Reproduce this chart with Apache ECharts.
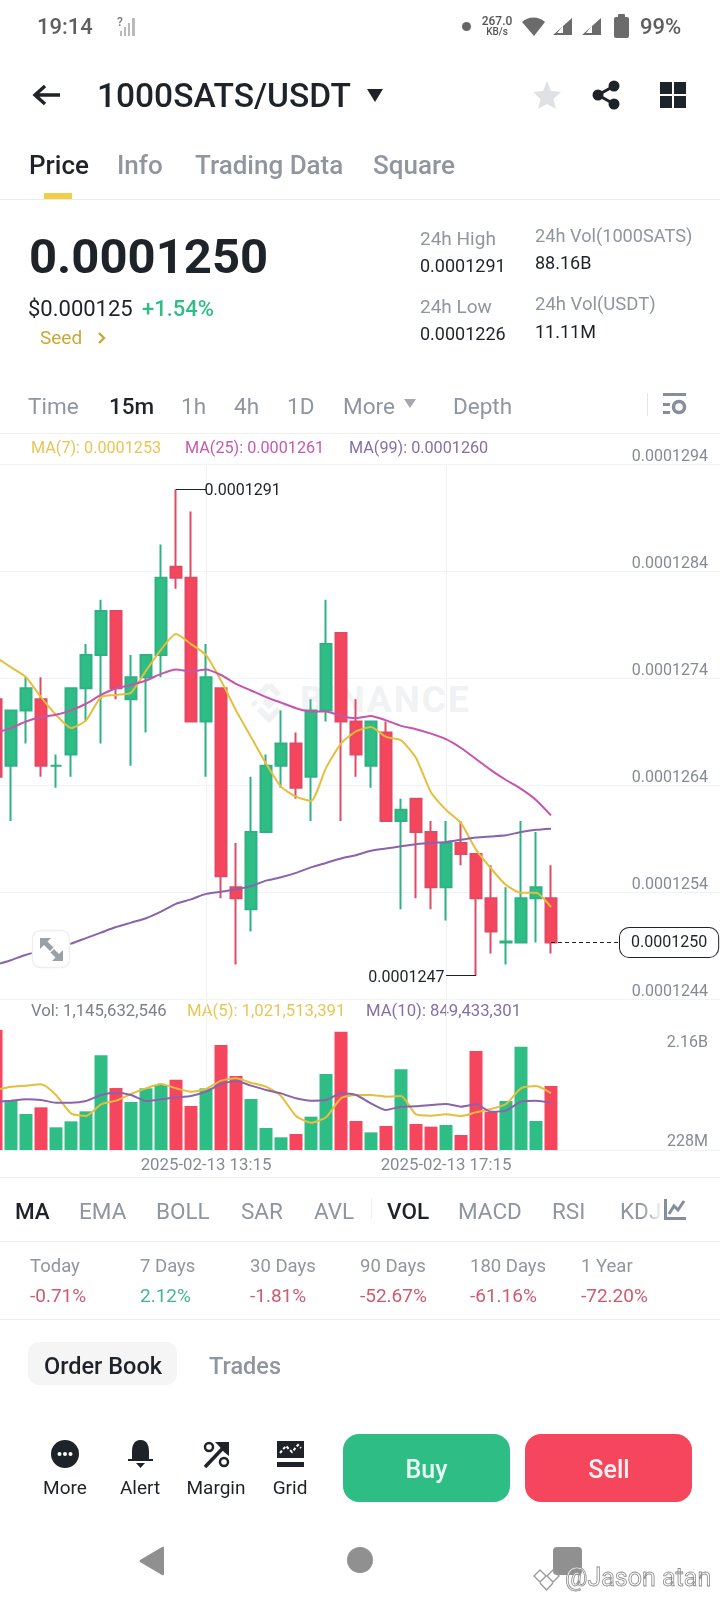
<!DOCTYPE html>
<html>
<head>
<meta charset="utf-8">
<title>1000SATS/USDT</title>
<script src="https://cdn.jsdelivr.net/npm/echarts@6/dist/echarts.min.js"></script>
<style>
html, body { margin: 0; padding: 0; background: #fff; }
body { position: relative; width: 720px; height: 1600px; overflow: hidden; font-family: Roboto, sans-serif; }
#chart { position: absolute; left: 0; top: 0; width: 720px; height: 1600px; }
#ui, #under { position: absolute; left: 0; top: 0; width: 720px; height: 1600px; }
#ui { pointer-events: none; }
.t { position: absolute; white-space: nowrap; transform: translateY(-50%); line-height: 1.2; }
.c { transform: translate(-50%, -50%); }
.b { position: absolute; }
svg { position: absolute; overflow: visible; }
</style>
</head>
<body>
<div id="under"></div>
<div id="chart"></div>
<div id="ui"></div>
<script>
// prices are in units of 0.0000001
var times = ['09:45','10:00','10:15','10:30','10:45','11:00','11:15','11:30','11:45','12:00',
  '12:15','12:30','12:45','13:00','13:15','13:30','13:45','14:00','14:15','14:30',
  '14:45','15:00','15:15','15:30','15:45','16:00','16:15','16:30','16:45','17:00',
  '17:15','17:30','17:45','18:00','18:15','18:30','18:45','19:00','19:15','19:30',
  '19:45','20:00','20:15','20:30','20:45','21:00','21:15','21:30','21:45','22:00'];
var dateStr = '2025-02-13';
var timeTickIdx = [14, 30];

var opens  = [1272,1266,1271,1272,1266,1267,1273,1276,1280,1272,1274,1276,1284,1283,1270,1273,1255,1253,1260,1266,
              1268,1265,1271,1278,1270,1266,1269,1261,1263,1260,1255,1259,1258,1254,1250,1250,1254,1254];
var closes = [1265,1271,1273,1266,1266,1273,1276,1280,1273,1274,1276,1283,1283,1270,1274,1256,1254,1260,1266,1268,
              1264,1271,1277,1270,1267,1270,1261,1262,1260,1255,1259,1258,1254,1251,1250.1,1254,1255,1250];
var lows   = [1265,1261,1268,1265,1264,1265,1270,1268,1272,1266,1269,1274,1282,1270,1265,1254,1248,1251,1260,1264,
              1263,1261,1270,1261,1265,1264,1261,1253,1254,1253,1252,1257,1247,1249,1248,1250,1250,1249];
var highs  = [1272,1271,1274,1274,1267,1273,1277,1281,1280,1276,1276,1286,1291,1289,1277,1273,1259,1265,1267,1271,
              1269,1272,1281,1278,1272,1270,1270,1263,1263,1261,1261,1261,1258,1257,1255,1261,1260,1257];

var ma7  = [1275.8,1274.9,1274.0,1272.2,1270.6,1269.4,1270.1,1272.2,1272.4,1272.6,1274.6,1276.5,1277.9,1277.0,1276.0,1273.7,1271.0,1268.6,1266.2,1264.1,
            1263.2,1262.8,1265.8,1268.0,1269.1,1269.5,1268.6,1268.3,1266.7,1263.6,1262.0,1260.8,1258.4,1256.7,1255.2,1254.5,1254.5,1253.2];
var ma25 = [1269.0,1269.4,1270.0,1270.4,1270.6,1271.0,1271.6,1272.4,1273.0,1273.3,1273.7,1274.3,1274.7,1274.5,1274.7,1274.2,1273.4,1272.8,1272.2,1271.7,
            1271.2,1270.9,1270.9,1270.5,1270.3,1270.5,1270.1,1269.6,1269.3,1268.9,1268.4,1267.6,1266.6,1265.6,1264.7,1263.9,1262.9,1261.5];
var ma99 = [1248.0,1248.4,1248.9,1249.2,1249.5,1249.9,1250.4,1250.9,1251.4,1251.8,1252.2,1252.8,1253.5,1253.9,1254.4,1254.6,1254.8,1255.1,1255.6,1255.9,
            1256.3,1256.8,1257.2,1257.6,1257.9,1258.3,1258.5,1258.7,1258.9,1259.0,1259.1,1259.3,1259.5,1259.6,1259.7,1260.0,1260.2,1260.3];

// volume in millions
var volumes = [2148,895,644,764,406,513,692,1695,1110,859,1104,1164,1259,788,1104,1880,1325,913,394,227,
               286,597,1360,2118,519,316,430,1444,465,418,448,269,1772,686,877,1850,519,1146];
var volMa5  = [1074,1134,1152,1175,985,656,609,817,883,1002,1104,1181,1104,1044,1092,1241,1283,1205,1134,967,
               609,489,585,925,985,985,955,967,638,615,638,609,674,734,823,1104,1146,1020];
var volMa10 = [865,883,907,895,847,847,877,985,1026,985,877,907,943,967,1044,1181,1235,1152,1074,1014,
               925,883,895,1014,985,835,716,776,782,806,823,776,817,686,704,865,883,847];

// axis gridlines sit a little off the printed labels, same as in the app
var priceTicks = [1244.89, 1254.57, 1264.25, 1273.93, 1283.61, 1293.29];
var priceTickLabels = ['0.0001244','0.0001254','0.0001264','0.0001274','0.0001284','0.0001294'];
var volTicks = [0, 1777];
var volTickLabels = ['228M', '2.16B'];

var priceLegend = ['MA(7): 0.0001253', 'MA(25): 0.0001261', 'MA(99): 0.0001260'];
var volLegend = ['Vol: 1,145,632,546', 'MA(5): 1,021,513,391', 'MA(10): 849,433,301'];

var GREEN = '#2EBD85', RED = '#F6465D', YELLOW = '#E6BE3C', PINK = '#C653AE', PURPLE = '#8A63AC';
var GRID_LINE = '#F1F2F3', AXIS_TEXT = '#858B94', INK = '#1E2329', GREY = '#8F96A0';

function priceText(p) { return '0.000' + Math.round(p); }
function nearestLabel(ticks, labels, v) {
  var best = 0;
  ticks.forEach(function (t, i) { if (Math.abs(t - v) < Math.abs(ticks[best] - v)) best = i; });
  return labels[best];
}

var candleData = opens.map(function (o, i) { return [o, closes[i], lows[i], highs[i]]; });
var hi = Math.max.apply(null, highs), lo = Math.min.apply(null, lows);
var hiIdx = highs.indexOf(hi), loIdx = lows.indexOf(lo);
var lastIdx = closes.length - 1, last = closes[lastIdx];

function maLine(name, data, color, xi, yi) {
  return { name: name, type: 'line', data: data, xAxisIndex: xi, yAxisIndex: yi, showSymbol: false, smooth: 0.2,
    lineStyle: { color: color, width: 2 }, itemStyle: { color: color }, silent: true, z: 5 };
}
function legendText(s, x, y, color, size) {
  return { type: 'text', x: x, y: y, silent: true,
    style: { text: s, fill: color, font: size + 'px Roboto', verticalAlign: 'middle' } };
}

var chart = echarts.init(document.getElementById('chart'));
chart.setOption({
  animation: false,
  backgroundColor: 'transparent',
  grid: [
    { left: -4, right: -11, top: 464, height: 535, outerBoundsMode: 'none' },
    { left: -4, right: -11, top: 1000, height: 150, outerBoundsMode: 'none' }
  ],
  xAxis: [
    { type: 'category', gridIndex: 0, data: times, boundaryGap: false,
      axisLine: { show: false }, axisTick: { show: false }, axisLabel: { show: false },
      splitLine: { show: true, interval: function (i) { return timeTickIdx.indexOf(i) >= 0; }, lineStyle: { color: GRID_LINE, width: 1 } } },
    { type: 'category', gridIndex: 1, data: times, boundaryGap: false,
      axisLine: { show: true, lineStyle: { color: GRID_LINE, width: 1 } }, axisTick: { show: false },
      axisLabel: { interval: function (i) { return timeTickIdx.indexOf(i) >= 0; }, margin: 7, color: AXIS_TEXT,
        fontFamily: 'Roboto', fontSize: 16.8, formatter: function (v) { return dateStr + ' ' + v; } },
      splitLine: { show: true, interval: function (i) { return timeTickIdx.indexOf(i) >= 0; }, lineStyle: { color: GRID_LINE, width: 1 } } }
  ],
  yAxis: [
    { type: 'value', gridIndex: 0, position: 'right', min: priceTicks[0], max: priceTicks[5], scale: true,
      axisLine: { show: false }, axisTick: { show: false, customValues: priceTicks },
      axisLabel: { inside: true, margin: 23, customValues: priceTicks, color: AXIS_TEXT, fontFamily: 'Roboto', fontSize: 16,
        verticalAlign: 'bottom', padding: [0, 0, -1, 0], formatter: function (v) { return nearestLabel(priceTicks, priceTickLabels, v); } },
      splitLine: { show: true, lineStyle: { color: GRID_LINE, width: 1 } } },
    { type: 'value', gridIndex: 1, position: 'right', min: 0, max: 2685,
      axisLine: { show: false }, axisTick: { show: false, customValues: volTicks },
      axisLabel: { inside: true, margin: 23, customValues: volTicks, color: AXIS_TEXT, fontFamily: 'Roboto', fontSize: 16,
        verticalAlign: 'bottom', formatter: function (v) { return nearestLabel(volTicks, volTickLabels, v); } },
      splitLine: { show: false } }
  ],
  series: [
    { name: 'price', type: 'candlestick', data: candleData, xAxisIndex: 0, yAxisIndex: 0, barWidth: 11.5,
      itemStyle: { color: GREEN, color0: RED, borderColor: '#2FB186', borderColor0: '#E04A65', borderWidth: 2 },
      markLine: { silent: true, symbol: 'none', animation: false,
        lineStyle: { color: INK, width: 1, type: 'solid' },
        label: { color: INK, fontFamily: 'Roboto', fontSize: 16, distance: 0 },
        data: [
          [ { coord: [hiIdx, hi], label: { formatter: priceText(hi), offset: [-1.5, 2] } }, { coord: [hiIdx + 2, hi] } ],
          [ { coord: [loIdx, lo], label: { formatter: priceText(lo), offset: [-1.5, 2] } }, { coord: [loIdx - 2, lo] } ],
          [ { coord: [lastIdx, last], lineStyle: { type: [4, 3] },
              label: { formatter: priceText(last), distance: -6, backgroundColor: '#fff', borderColor: INK, borderWidth: 1,
                borderRadius: 9, padding: [8, 11, 5, 11] } },
            { coord: [lastIdx + 5, last] } ]
        ] } },
    maLine('MA(7)', ma7, YELLOW, 0, 0),
    maLine('MA(25)', ma25, PINK, 0, 0),
    maLine('MA(99)', ma99, PURPLE, 0, 0),
    { name: 'Vol', type: 'bar', data: volumes, xAxisIndex: 1, yAxisIndex: 1, barWidth: 13,
      itemStyle: { color: function (p) { return closes[p.dataIndex] >= opens[p.dataIndex] ? GREEN : RED; } } },
    maLine('MA(5)', volMa5, YELLOW, 1, 1),
    maLine('MA(10)', volMa10, PURPLE, 1, 1)
  ],
  graphic: [
    legendText(priceLegend[0], 31, 449, '#E8C654', 16.2),
    legendText(priceLegend[1], 185, 449, '#C659B1', 16.2),
    legendText(priceLegend[2], 349, 449, '#8470A8', 16.2),
    legendText(volLegend[0], 31, 1012, '#7B808A', 16.7),
    legendText(volLegend[1], 187, 1012, '#E8C654', 16.7),
    legendText(volLegend[2], 366, 1012, '#8470A8', 16.7)
  ]
});

// everything around the chart is plain page furniture
var ui = document.getElementById('ui');
function add(html) { ui.insertAdjacentHTML('beforeend', html); }
function txt(s, x, cy, size, color, weight, extra) {
  add('<div class="t" style="left:' + x + 'px;top:' + cy + 'px;font-size:' + size + 'px;color:' + color +
      ';font-weight:' + (weight || 400) + ';' + (extra || '') + '">' + s + '</div>');
}
function mid(s, x, cy, size, color, weight) {
  add('<div class="t c" style="left:' + x + 'px;top:' + cy + 'px;font-size:' + size + 'px;color:' + color +
      ';font-weight:' + (weight || 400) + '">' + s + '</div>');
}
function box(x, y, w, h, color, r) {
  add('<div class="b" style="left:' + x + 'px;top:' + y + 'px;width:' + w + 'px;height:' + h + 'px;background:' + color +
      ';border-radius:' + (r || 0) + 'px"></div>');
}
function svg(x, y, w, h, inner, vb) {
  add('<svg style="left:' + x + 'px;top:' + y + 'px" width="' + w + '" height="' + h + '" viewBox="' + (vb || ('0 0 ' + w + ' ' + h)) + '">' + inner + '</svg>');
}

// status bar
txt('19:14', 37, 27, 22, '#5E5E5E', 500);
txt('?', 117, 22, 12, '#777', 500);
svg(119, 17, 17, 19, '<path d="M1 19V14h2v5zM5 19V10h2v9zM9 19V6h2v13zM13 19V1h3v18z" fill="#bbb"/>');
box(462, 22, 9, 9, '#666', 5);
mid('267.0', 497, 21, 12, '#555', 500);
mid('KB/s', 497, 32, 10, '#555', 500);
svg(522, 17, 24, 19, '<path d="M0 5C6-1 17-1 23 5L12 19z" fill="#6B6B6B"/>');
svg(553, 18, 19, 17, '<path d="M19 0V17H0zM10 8 4 15H10z" fill="#6B6B6B" fill-rule="evenodd"/>');
svg(582, 18, 19, 17, '<path d="M19 0V17H0zM10 8 4 15H10z" fill="#6B6B6B" fill-rule="evenodd"/>');
box(614, 17, 15, 21, '#6B6B6B', 2);
box(618, 14, 7, 4, '#6B6B6B', 1);
txt('99%', 640, 27, 22, '#5E5E5E', 500);

// title bar
svg(33, 84, 28, 22, '<path d="M27 11H3M12 2 2 11l10 9" fill="none" stroke="#1E2329" stroke-width="3.4"/>');
txt('1000SATS/USDT', 97, 96, 33.5, INK, 500);
svg(367, 89, 16, 13, '<path d="M0 0H16L8 13z" fill="#1E2329"/>');
svg(533, 81, 28, 28, '<path d="M14 0l4 10 10 1-7.5 7L23 28l-9-5-9 5 2.500-10L0 11l10-1z" fill="#DFE1E5"/>');
svg(592, 81, 28, 28, '<circle cx="22" cy="5" r="5.500" fill="#1E2329"/><circle cx="22" cy="23" r="5.500" fill="#1E2329"/><circle cx="6" cy="14" r="5.500" fill="#1E2329"/><path d="M22 5 6 14l16 9" fill="none" stroke="#1E2329" stroke-width="3"/>');
box(660, 82, 12, 12, INK); box(674, 82, 12, 12, INK); box(660, 96, 12, 12, INK); box(674, 96, 12, 12, INK);

// tabs
txt('Price', 29, 166, 26, INK, 500);
txt('Info', 117, 166, 26, GREY, 500);
txt('Trading Data', 195, 166, 26, GREY, 500);
txt('Square', 373, 166, 26, GREY, 500);
box(44, 193, 28, 6, '#F0CE4A');
box(0, 199, 720, 1, '#E9EAEC');

// ticker block
txt('0.0001250', 29, 257, 49, INK, 700);
txt('$0.000125', 28, 309, 22, INK, 400);
txt('+1.54%', 142, 309, 22, GREEN, 500);
txt('Seed', 40, 338, 19, '#C9A935', 400);
svg(98, 332, 8, 12, '<path d="M1 1l5 5-5 5" fill="none" stroke="#C9A935" stroke-width="2.4"/>');
txt('24h High', 420, 239, 19, GREY);
txt('0.0001291', 420, 266, 18, INK);
txt('24h Vol(1000SATS)', 535, 236, 18.2, GREY);
txt('88.16B', 535, 263, 18, INK);
txt('24h Low', 420, 307, 19, GREY);
txt('0.0001226', 420, 334, 18, INK);
txt('24h Vol(USDT)', 535, 304, 18.5, GREY);
txt('11.11M', 535, 332, 18, INK);

// interval row
txt('Time', 28, 406, 22.500, GREY);
txt('15m', 109, 406, 22.500, INK, 500);
txt('1h', 181, 406, 22.500, GREY);
txt('4h', 234, 406, 22.500, GREY);
txt('1D', 287, 406, 22.500, GREY);
txt('More', 343, 406, 22.500, GREY);
svg(404, 399, 12, 9, '<path d="M0 0H12L6 9z" fill="#A4A9B0"/>');
txt('Depth', 453, 406, 22.500, GREY);
box(647, 393, 1, 23, '#E5E5E5');
svg(663, 393, 23, 23, '<rect x="0" y="0" width="23" height="3" fill="#848E9C"/><rect x="0" y="10" width="7" height="3" fill="#848E9C"/><rect x="0" y="18" width="7" height="3" fill="#848E9C"/><circle cx="16" cy="14" r="5.500" fill="none" stroke="#848E9C" stroke-width="3.500"/>');
box(0, 433, 720, 1, '#F0F1F2');

// fullscreen button on the chart
svg(32, 930, 38, 38, '<rect x=".5" y=".5" width="37" height="37" rx="8" fill="#fff" stroke="#EEEFF0" stroke-width="1.500"/><path d="M8 8h11l-3.500 3.500 6 6-3.500 3.500-6-6L8 19z" fill="#9AA0A8"/><path d="M31 31H20l3.500-3.500-5-5 3.500-3.500 5 5 4-4z" fill="#9AA0A8"/>');

// bottom of the chart
box(0, 1177, 720, 1, '#EDEEEF');

// indicator row
txt('MA', 15, 1211, 22.5, INK, 500);
txt('EMA', 79, 1211, 22.5, GREY);
txt('BOLL', 156, 1211, 22.5, GREY);
txt('SAR', 241, 1211, 22.5, GREY);
txt('AVL', 314, 1211, 22.5, GREY);
box(371, 1198, 1, 21, '#EEE');
txt('VOL', 387, 1211, 22.5, INK, 500);
txt('MACD', 458, 1211, 22.5, GREY);
txt('RSI', 552, 1211, 22.5, GREY);
txt('KDJ', 620, 1211, 22.5, GREY);
box(642, 1196, 22, 30, 'linear-gradient(90deg,rgba(255,255,255,0),#fff)');
svg(664, 1199, 22, 21, '<path d="M1.500 0V19.500H22" fill="none" stroke="#848E9C" stroke-width="3"/><path d="M5 15 10 7l4 4 6-9" fill="none" stroke="#848E9C" stroke-width="3"/>');
box(0, 1241, 720, 1, '#EDEEEF');

// period returns
var periodNames = ['Today', '7 Days', '30 Days', '90 Days', '180 Days', '1 Year'];
var periodChanges = ['-0.71%', '2.12%', '-1.81%', '-52.67%', '-61.16%', '-72.20%'];
var periodX = [30, 140, 250, 360, 470, 581];
periodNames.forEach(function (n, i) {
  txt(n, periodX[i], 1266, 18.5, GREY);
  txt(periodChanges[i], periodX[i], 1296, 19, periodChanges[i].charAt(0) === '-' ? '#CF5A6E' : '#43B68C');
});
box(0, 1319, 720, 1, '#EDEEEF');

// order book tabs
box(28, 1342, 149, 43, '#F5F5F5', 11);
txt('Order Book', 44, 1366, 23.5, INK, 500);
txt('Trades', 209, 1366, 23.5, GREY, 500);

// action bar
svg(51, 1440, 28, 28, '<circle cx="14" cy="14" r="14" fill="#1E2329"/><circle cx="8.500" cy="14" r="2" fill="#fff"/><circle cx="14" cy="14" r="2" fill="#fff"/><circle cx="19.500" cy="14" r="2" fill="#fff"/>');
svg(128, 1440, 25, 28, '<path d="M12.500 0C5 0 4 7 4 12v7H0v2h25v-2h-4v-7C21 7 20 0 12.500 0z" fill="#1E2329"/><path d="M8 23h9l-4.500 5z" fill="#1E2329"/>');
svg(203, 1441, 26, 26, '<path d="M2 26 21 6" stroke="#1E2329" stroke-width="3.500"/><path d="M12 1h14v14l-5-4-5-6z" fill="#1E2329"/><circle cx="6" cy="6" r="4" fill="none" stroke="#1E2329" stroke-width="2.500"/><circle cx="21" cy="21" r="4" fill="none" stroke="#1E2329" stroke-width="2.500"/>');
svg(277, 1441, 27, 26, '<path d="M0 0H27V17H0z" fill="#1E2329"/><path d="M3 12 9 5l6 6 6-7 3 3" fill="none" stroke="#fff" stroke-width="2" stroke-dasharray="3 2"/><rect x="0" y="21" width="27" height="5" fill="#1E2329"/>');
mid('More', 65, 1488, 19, INK);
mid('Alert', 140, 1488, 19, INK);
mid('Margin', 216, 1488, 19, INK);
mid('Grid', 290, 1488, 19, INK);
box(343, 1434, 167, 68, GREEN, 16);
box(525, 1434, 167, 68, RED, 16);
mid('Buy', 426.500, 1470, 25, '#E8FFF5', 500);
mid('Sell', 609, 1470, 25, '#FFF2F3', 500);

// navigation bar
svg(139, 1546, 25, 30, '<path d="M25 2Q25 0 23 1L1 14Q0 15 1 16L23 29Q25 30 25 28z" fill="#909090"/>');
box(347, 1547, 26, 26, '#909090', 13);
box(553, 1547, 29, 28, '#909090', 4);
svg(533, 1568, 27, 24, '<g fill="none" stroke="#999" stroke-width="1.400"><path d="M1 8 7 2l6 6-6 6zM14 8l6-6 6 6-6 6zM7 15l6.500 7L20 15"/></g>');
txt('@Jason atan', 565, 1578, 25, '#fff', 400, '-webkit-text-stroke:.8px #8A8A8A;');

// BINANCE watermark sits under the transparent canvas
document.getElementById('under').innerHTML =
  '<svg style="left:247px;top:680px" width="44" height="44" viewBox="0 0 44 44"><g fill="none" stroke="#F0F1F2" stroke-width="6"><path d="M22 5 12 15M22 5l10 10M6 22l3 3M38 22l-3 3M12 29l10 10 10-10M19 22l3-3 3 3-3 3z"/></g></svg>' +
  '<div class="t" style="left:300px;top:700px;font-size:37px;font-weight:700;letter-spacing:2px;color:#F1F2F3">BINANCE</div>';
</script>
</body>
</html>
